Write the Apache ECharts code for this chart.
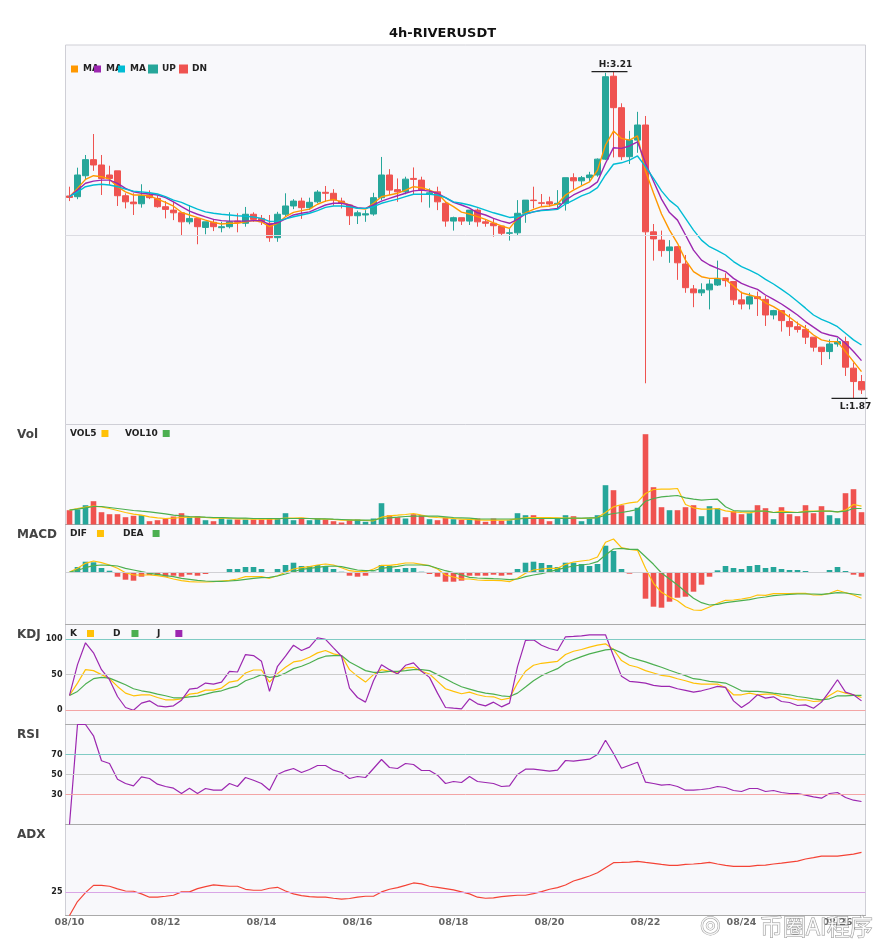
<!DOCTYPE html>
<html><head><meta charset="utf-8">
<script src="https://cdn.jsdelivr.net/npm/echarts@6/dist/echarts.min.js"></script>
<style>html,body{margin:0;padding:0;background:#fff}#c{width:885px;height:950px}</style>
</head><body><div id="c"></div>
<script>
const categories = [
'08/10 00:00','08/10 04:00','08/10 08:00','08/10 12:00','08/10 16:00','08/10 20:00',
'08/11 00:00','08/11 04:00','08/11 08:00','08/11 12:00','08/11 16:00','08/11 20:00',
'08/12 00:00','08/12 04:00','08/12 08:00','08/12 12:00','08/12 16:00','08/12 20:00',
'08/13 00:00','08/13 04:00','08/13 08:00','08/13 12:00','08/13 16:00','08/13 20:00',
'08/14 00:00','08/14 04:00','08/14 08:00','08/14 12:00','08/14 16:00','08/14 20:00',
'08/15 00:00','08/15 04:00','08/15 08:00','08/15 12:00','08/15 16:00','08/15 20:00',
'08/16 00:00','08/16 04:00','08/16 08:00','08/16 12:00','08/16 16:00','08/16 20:00',
'08/17 00:00','08/17 04:00','08/17 08:00','08/17 12:00','08/17 16:00','08/17 20:00',
'08/18 00:00','08/18 04:00','08/18 08:00','08/18 12:00','08/18 16:00','08/18 20:00',
'08/19 00:00','08/19 04:00','08/19 08:00','08/19 12:00','08/19 16:00','08/19 20:00',
'08/20 00:00','08/20 04:00','08/20 08:00','08/20 12:00','08/20 16:00','08/20 20:00',
'08/21 00:00','08/21 04:00','08/21 08:00','08/21 12:00','08/21 16:00','08/21 20:00',
'08/22 00:00','08/22 04:00','08/22 08:00','08/22 12:00','08/22 16:00','08/22 20:00',
'08/23 00:00','08/23 04:00','08/23 08:00','08/23 12:00','08/23 16:00','08/23 20:00',
'08/24 00:00','08/24 04:00','08/24 08:00','08/24 12:00','08/24 16:00','08/24 20:00',
'08/25 00:00','08/25 04:00','08/25 08:00','08/25 12:00','08/25 16:00','08/25 20:00',
'08/26 00:00','08/26 04:00','08/26 08:00','08/26 12:00'];

const open = [2.700,2.697,2.783,2.849,2.827,2.786,2.803,2.701,2.675,2.668, 2.704,2.690,2.656,2.642,2.631,2.594,2.608,2.571,2.592,2.570, 2.574,2.597,2.588,2.625,2.608,2.588,2.529,2.625,2.659,2.679, 2.652,2.676,2.715,2.711,2.679,2.663,2.619,2.622,2.626,2.693, 2.786,2.726,2.717,2.772,2.765,2.709,2.717,2.670,2.597,2.611, 2.597,2.642,2.594,2.588,2.577,2.547,2.549,2.629,2.683,2.672, 2.676,2.666,2.670,2.775,2.762,2.775,2.786,2.851,3.191,3.062, 2.861,2.929,2.991,2.553,2.519,2.476,2.492,2.421,2.319,2.303, 2.315,2.335,2.362,2.349,2.274,2.257,2.287,2.276,2.212,2.230, 2.185,2.164,2.153,2.121,2.080,2.062,2.093,2.103,1.994,1.939];
const close = [2.694,2.786,2.849,2.827,2.772,2.772,2.701,2.676,2.668,2.701, 2.693,2.656,2.645,2.631,2.594,2.608,2.574,2.594,2.574,2.574, 2.594,2.592,2.625,2.604,2.594,2.529,2.625,2.659,2.679,2.652, 2.674,2.716,2.711,2.683,2.670,2.619,2.631,2.627,2.693,2.786, 2.724,2.717,2.769,2.768,2.724,2.713,2.676,2.597,2.611,2.597, 2.642,2.594,2.588,2.578,2.547,2.549,2.629,2.683,2.681,2.670, 2.667,2.670,2.775,2.762,2.775,2.786,2.851,3.189,3.062,2.861, 2.929,2.991,2.553,2.524,2.476,2.491,2.426,2.324,2.303,2.315, 2.339,2.362,2.353,2.274,2.257,2.287,2.279,2.212,2.230,2.189, 2.164,2.153,2.121,2.080,2.062,2.093,2.103,1.998,1.939,1.905];
const high = [2.738,2.816,2.868,2.954,2.868,2.824,2.803,2.711,2.711,2.748, 2.723,2.701,2.679,2.676,2.631,2.663,2.611,2.594,2.606,2.594, 2.633,2.629,2.655,2.633,2.622,2.622,2.635,2.711,2.687,2.693, 2.693,2.724,2.741,2.728,2.693,2.663,2.640,2.642,2.713,2.860, 2.810,2.772,2.779,2.817,2.779,2.731,2.738,2.676,2.615,2.611, 2.642,2.649,2.604,2.608,2.577,2.567,2.683,2.683,2.738,2.708, 2.697,2.724,2.775,2.793,2.782,2.799,2.854,3.205,3.210,3.080, 2.967,3.045,3.028,2.585,2.558,2.519,2.495,2.458,2.335,2.342, 2.358,2.435,2.383,2.349,2.308,2.303,2.308,2.290,2.233,2.230, 2.216,2.185,2.171,2.121,2.080,2.112,2.117,2.123,2.017,1.966];
const low = [2.679,2.687,2.765,2.803,2.704,2.745,2.659,2.649,2.622,2.652, 2.687,2.652,2.608,2.601,2.537,2.584,2.502,2.543,2.556,2.551, 2.567,2.551,2.574,2.594,2.581,2.512,2.512,2.615,2.646,2.606, 2.642,2.670,2.676,2.660,2.649,2.581,2.585,2.594,2.619,2.683, 2.704,2.676,2.707,2.704,2.674,2.652,2.642,2.574,2.558,2.581, 2.581,2.574,2.574,2.533,2.536,2.517,2.540,2.590,2.649,2.656, 2.656,2.649,2.640,2.727,2.745,2.758,2.779,2.847,2.858,2.847, 2.831,2.877,1.932,2.435,2.451,2.426,2.356,2.303,2.244,2.290, 2.235,2.331,2.328,2.253,2.235,2.235,2.208,2.167,2.194,2.144, 2.126,2.140,2.093,2.062,2.007,2.031,2.082,1.962,1.870,1.888];

const ma5 = [2.697,2.731,2.768,2.783,2.779,2.769,2.738,2.717,2.704,2.704, 2.700,2.687,2.674,2.658,2.633,2.622,2.611,2.601,2.592,2.585, 2.588,2.588,2.594,2.599,2.594,2.574,2.588,2.615,2.633,2.640, 2.646,2.666,2.679,2.686,2.676,2.663,2.649,2.646,2.670,2.697, 2.704,2.711,2.724,2.738,2.734,2.724,2.711,2.676,2.656,2.634, 2.626,2.615,2.604,2.590,2.577,2.567,2.608,2.631,2.645,2.656, 2.659,2.667,2.704,2.724,2.741,2.758,2.806,2.909,2.966,2.936, 2.929,2.946,2.802,2.712,2.626,2.560,2.506,2.437,2.390,2.369, 2.362,2.362,2.358,2.331,2.303,2.294,2.285,2.262,2.246,2.226, 2.203,2.178,2.158,2.130,2.110,2.103,2.103,2.062,2.021,1.980];
const ma10 = [2.697,2.724,2.752,2.761,2.765,2.765,2.752,2.731,2.717,2.711, 2.708,2.704,2.693,2.676,2.656,2.638,2.625,2.614,2.604,2.599, 2.597,2.597,2.597,2.599,2.599,2.583,2.590,2.606,2.622,2.629, 2.635,2.649,2.663,2.670,2.670,2.663,2.652,2.649,2.663,2.679, 2.690,2.701,2.711,2.721,2.724,2.720,2.711,2.693,2.674,2.663, 2.650,2.631,2.622,2.608,2.597,2.588,2.604,2.626,2.635,2.642, 2.645,2.649,2.683,2.704,2.720,2.734,2.758,2.834,2.898,2.895, 2.905,2.922,2.834,2.760,2.687,2.632,2.601,2.540,2.478,2.437, 2.417,2.403,2.390,2.362,2.342,2.328,2.317,2.294,2.276,2.257, 2.235,2.212,2.185,2.162,2.140,2.130,2.123,2.096,2.062,2.025];
const ma20 = [2.697,2.717,2.738,2.745,2.748,2.745,2.738,2.728,2.720,2.717, 2.713,2.708,2.697,2.683,2.674,2.659,2.646,2.635,2.629,2.625, 2.622,2.619,2.617,2.614,2.608,2.596,2.597,2.606,2.615,2.622, 2.629,2.640,2.653,2.659,2.659,2.656,2.649,2.649,2.656,2.670, 2.679,2.687,2.697,2.707,2.707,2.707,2.704,2.693,2.676,2.670, 2.663,2.653,2.642,2.631,2.622,2.612,2.615,2.626,2.635,2.640, 2.642,2.645,2.667,2.683,2.700,2.713,2.734,2.786,2.830,2.836, 2.847,2.864,2.820,2.772,2.721,2.682,2.656,2.608,2.560,2.519, 2.492,2.476,2.458,2.431,2.410,2.396,2.380,2.358,2.339,2.317, 2.294,2.267,2.240,2.212,2.194,2.181,2.164,2.137,2.110,2.089];

const volume = [14.3,15,19.3,23.3,12.3,10.3,10.3,7.3,8.7,9.3, 3.3,4.3,5.7,8,11.3,7.3,8.3,4.3,3.3,7.3, 5,5,5,5,5,6,6,11.3,4.3,6.7, 4.3,6,5,3.3,2,4.3,5,2.7,6,21.3, 9.3,7.3,6,10.3,9.3,5.3,4.3,6.7,5.3,4.7, 5,6,2.7,6,3.7,4.3,11.3,9.3,9.3,6.7, 3.3,6.7,9.3,8.3,3.3,6,9.3,39.3,34.3,19.3, 8.3,16.7,90.3,37.3,17.3,14.3,14.3,17.3,19.3,8.3, 18.3,16.3,7.3,13.3,10.3,11.3,19.3,16.3,5.3,17.3, 10.3,8.3,19.3,11.3,18.3,9.3,6.3,31.3,35.3,12.3];
const vol5 = [14.3,16,17.3,18.3,17.7,16,14,12,10.3,9.3, 7.7,6.7,6,6.3,7,7.3,7.3,7,6.3,6.7, 6,5.7,5.7,5.3,5.3,5.3,5.7,6.3,6.3,6.7, 6,5.7,5.3,5,4.3,4.3,4.3,4,3.7,7.3, 8.7,9.3,10,11,9.3,7.7,7,6.7,6,5.3, 5,4.7,4.3,4.3,4.3,4.7,5.7,6.7,7,7, 7,6.7,6.3,6.3,6,6.3,7,12,17.7,20, 21.7,22.7,31,35,35.3,35.3,36,20,16.7,15.3, 15.3,16,13.7,12.7,12,11.7,13.3,13.3,12,13.3, 12.7,12,13.3,13.3,13.3,13.3,12.7,14.3,20,18.3];
const vol10 = [14.3,15.3,16.7,18,18,17,16,15,14,13.3, 12.7,11.7,10.7,9.3,8.7,8,7.7,7.3,7,7, 6.7,6.3,6.3,6,6,6,6,6,6,6, 6,5.7,5.7,5.3,5,4.7,4.3,4.3,4.7,6, 6.7,7.3,8,8.3,8.3,8.3,8.3,7.7,7,6.7, 6.3,5.7,5.5,5.5,5.5,5.5,5.7,6,6,6, 6,6,6,6.3,6.3,6.7,6.7,9.3,11,12, 13.3,15,23.3,26,27.7,28.3,29,26.7,25.3,24.3, 25,25.3,17.7,14,13.3,13.3,13.3,13.3,12,12, 12,12,12.7,13,13.3,13.3,12.7,13.3,16,16];

const macdHist = [0,5,10.3,9.7,4,1.3,-4.7,-7.7,-8.7,-4.7, -3,-3,-4.7,-3.7,-4.7,-2.7,-3.7,-2,-1,0, 3,3,5,5,3,-0.7,3,7,9.3,6, 6,7,6,3,0.3,-3.7,-4.7,-3.7,0.3,7, 6.3,3,4,4,0.3,-2,-4.7,-9.7,-9.7,-8.7, -3.7,-3.7,-3.7,-2.7,-3.7,-2.7,3,9.3,10.3,9, 7,5,9.3,9.3,8,6,8,26.3,21,3, -1.7,-0.7,-26.7,-34.7,-35.7,-29.7,-25.7,-24.7,-19.7,-12.7, -4.7,1.7,6,4,3,6,7,4,5,3, 2,2,1,-0.7,-0.7,2,5,1,-2.7,-4.7];
const dif = [0,3.7,8.7,11,9.3,7,3.7,-0.7,-3,-3, -3,-3.7,-5,-7,-8.7,-9.7,-10,-10,-9.7,-9, -8.3,-7,-4.7,-4.7,-4.7,-6.3,-3.7,-0.3,3,4.3, 5.3,7,8,7,4.3,1.3,0.3,0.3,3,6.7, 6.7,7.7,9,9,7.7,6.3,3,-3,-5,-7, -7,-8,-8.3,-8.3,-8.7,-9.7,-6.3,-1.3,2,3, 3.7,3.7,7.7,10,11,12,15,29.7,33,24.3, 22.7,21.7,3.7,-11.3,-20.3,-25,-28.7,-34.7,-38,-38.3, -35,-31.3,-28.3,-28,-27,-25.7,-23,-23.3,-21.7,-21.7, -21.7,-21.3,-21.3,-23,-23,-21.3,-18.3,-20.7,-23,-26.3];
const dea = [0,1.7,4.3,6.3,7,6.7,6,3.7,2,0.3, -1.3,-2.3,-3.7,-4.7,-6.3,-7.3,-8.3,-9,-9.3,-9.3, -9,-8.3,-7.3,-6.3,-5.7,-5.3,-4,-2,0.3,2.7, 3.7,4.7,5.7,6,5.3,3.7,2,1.3,1.3,3.7, 4.7,5.7,7,7,7,6.3,3.7,1.3,-0.7,-3, -5.3,-6,-6.3,-6.7,-7,-7.7,-7,-4.7,-3,-1.7, 0.3,2.3,4.3,6,7,8,10.3,17,23,23.7, 22.7,22.7,15.3,7.7,-1,-7,-13,-19.7,-26.3,-30.7, -33,-32.3,-30.7,-29.7,-28.7,-27.7,-26,-25,-23.7,-23, -22.3,-22,-22,-22,-22.3,-21.7,-20.7,-21,-22,-23];

const kLine = [20.7,38,56.8,55.4,49.8,44.1,33.3,23.9,20.2,21.6, 21.6,17.8,14.6,14.6,16,22.5,23.9,28.2,28.2,31, 39.4,41.3,52.1,56.3,56.3,39.4,51.2,60.1,67.6,69.5, 74.2,80.3,83.6,78.9,76.5,56.8,47.4,39.4,49.8,56.8, 54.5,52.1,59.2,60.1,54.5,50.7,40.4,30,26.3,23, 25.4,21.6,19.2,18.8,14.6,16.9,38,54.5,63,65.7, 67.1,68.5,77.9,82.6,85,88.3,91.1,93,85,69.5, 62.9,60.1,55.4,52.1,48.8,47.4,44.1,41.3,38,36.6, 36.6,36.6,31.9,21.6,21.6,23.9,21.6,22.5,22.5,19.2, 16.9,14.6,14.6,12.2,13.1,20.7,27.2,23.9,21.6,17.8];
const dLine = [20.7,26.3,36.6,44.1,46,45,40.4,35.7,30,27.2, 25.4,22.5,20.2,17.4,17.4,18.8,19.7,22.5,25.4,27.2, 31,33.8,41.3,45.1,49.8,46,47.4,52.1,58.2,61.5, 66.2,71.8,75.6,76.5,76.5,67.6,61.5,55.4,53,53, 54.5,54.5,55.4,56.8,56.8,55.4,49.8,44.1,38,32.9, 29.6,26.3,23.9,22.5,20.2,19.2,23.9,32.4,41.3,48.4, 53.5,58.2,66.2,70.9,75.1,78.9,81.7,84.5,85.4,80.3, 74.2,70.9,67.6,63.8,60.1,55.9,52.1,48.4,44.1,42.7, 40.4,39.4,38,32.9,27.2,26.3,26.3,25.4,23.9,22.5, 21.6,19.2,17.8,16,14.6,16,20.2,20.2,20.7,20.7];
const jLine = [20.7,63.8,94.4,80.3,56.8,42.7,19.2,3.8,0,9.9, 13.1,6.1,4.7,6.1,14.1,29.6,31,38,36.6,39.4, 54.5,53.5,77.9,76.5,68.5,26.3,61.5,75.6,91.1,83.6, 88.3,101.4,99.1,87.3,75.6,31,17.8,11.3,41.3,63.8, 56.8,50.7,62.9,66.2,54.5,46,23.9,3.8,2.8,1.9, 16,8.9,6.1,11.3,4.7,9.9,61,97.7,98.6,91, 86.4,83.6,102.8,103.3,104.2,105.6,105.6,105.6,76,47.4, 40.4,39.4,38,34.7,33.3,33.3,30,27.7,25.4,27.2, 30,33.3,31.9,13.1,3.8,11.3,21.6,16.9,18.8,12.2, 10.8,6.6,7.5,2.8,11.3,26.3,42.7,25.4,21.6,13.1];

const rsi = [0,100,100,88.7,63.7,61,45.3,41,38.7,47.7, 46,40.3,38,36.3,31,36.3,31,36,34.3,34.3, 41,38,47,44.3,41,34.3,50,53.7,56,52, 55,59,59,54.3,52,46,48,47,56,65, 57,56,61,60,54,54,49.3,41,43,42, 48,43,42,41,38,38.7,50,55.3,55.3,54.3, 53.3,54.3,64,63.3,64.3,65.3,70,84.3,71,56.3, 59.3,62.3,42.3,41,39.3,40,38,34.3,34.3,35, 36,38,37,34,33,36,36,33,34,32, 31,31,29.3,27.7,26.3,31,32,27,24.3,23];

const adx = [0,14.8,24.3,32,32,31,28.2,26,25.7,22.9, 19.4,19.4,20.4,21.5,25,25,28.5,30.6,32.4,31.7, 31,31,27.8,26.8,26.8,28.9,29.9,26,22.9,21.1, 20.1,19.4,19.4,18.3,17.3,18,19.4,20.4,20.4,25, 27.8,29.6,32,34.5,33.5,31,29.9,28.5,27.1,25, 22.9,19.4,18.3,18.7,20.1,20.8,21.5,21.5,23.2,25.4, 27.8,29.6,32.4,36.6,39.1,41.9,45.4,50.7,56,56.3, 56.7,57.4,56.3,55.3,54.2,53.2,53.2,54.2,54.6,55.3, 56.3,54.6,53.2,52.1,52.1,52.1,53.2,53.5,54.6,55.6, 56.7,57.7,59.9,61.3,63,63,63,64.1,65.1,66.9];

const kdjLevels = [0, 50, 100];
const rsiLevels = [30, 50, 70];
const adxLevels = [25];

const FONT = '"DejaVu Sans", sans-serif';
const UP = '#26a69a', DN = '#ef5350';
const priceMin = 1.763, priceMax = 3.319;

const isUp = close.map((c, i) => c >= open[i]);
const upData = categories.map((_, i) => isUp[i] ? [open[i], close[i], low[i], high[i]] : ['-','-','-','-']);
const dnData = categories.map((_, i) => !isUp[i] ? [open[i], close[i], low[i], high[i]] : ['-','-','-','-']);
const volData = volume.map((v, i) => ({ value: v, itemStyle: { color: isUp[i] ? UP : DN } }));
const histData = macdHist.map(v => ({ value: v, itemStyle: { color: v >= 0 ? UP : DN } }));

const chart = echarts.init(document.getElementById('c'), null, { renderer: 'canvas' });

const gridBase = { left: 65.5, right: 19.5, show: true, backgroundColor: '#f8f8fb', borderColor: '#cfcfd6', borderWidth: 1, containLabel: false, outerBoundsMode: 'none' };
const tops = [45, 424.5, 524.5, 624.5, 724.5, 824.5];
const heights = [379.5, 100, 100, 100, 100, 91];
const grids = tops.map((t, i) => Object.assign({}, gridBase, { top: t, height: heights[i] }));

const xAxes = grids.map((g, i) => ({
  type: 'category', gridIndex: i, data: categories, boundaryGap: true,
  axisTick: { show: false },
  axisLine: { show: i > 0, onZero: false, lineStyle: { color: '#aaaaaa', width: 1 } },
  splitLine: { show: false },
  axisLabel: {
    show: i === 5, interval: (idx) => idx % 12 === 0,
    formatter: (v) => v.slice(0, 5), fontSize: 9.5, fontWeight: 'bold', color: '#666', margin: 2, fontFamily: FONT
  }
}));

const lblStyle = { fontSize: 8, fontWeight: 'bold', color: '#222', margin: 3, fontFamily: FONT };
const yAxes = [
  { gridIndex: 0, min: priceMin, max: priceMax, axisLabel: { show: false }, axisLine: { show: false }, axisTick: { show: false }, splitLine: { show: false } },
  { gridIndex: 1, min: 0, max: 100, axisLabel: { show: false }, axisLine: { show: false }, axisTick: { show: false }, splitLine: { show: false } },
  { gridIndex: 2, min: -52.5, max: 47.5, axisLabel: { show: false }, axisLine: { show: false }, axisTick: { show: false }, splitLine: { show: false } },
  { gridIndex: 3, min: -20, max: 120, interval: 10, axisLine: { show: false }, axisTick: { show: false }, splitLine: { show: false },
    axisLabel: Object.assign({ formatter: v => kdjLevels.includes(v) ? String(v) : '' }, lblStyle) },
  { gridIndex: 4, min: 0, max: 100, interval: 10, axisLine: { show: false }, axisTick: { show: false }, splitLine: { show: false },
    axisLabel: Object.assign({ formatter: v => rsiLevels.includes(v) ? String(v) : '' }, lblStyle) },
  { gridIndex: 5, min: 0, max: 96.5, interval: 5, axisLine: { show: false }, axisTick: { show: false }, splitLine: { show: false },
    axisLabel: Object.assign({ formatter: v => adxLevels.includes(v) ? String(v) : '' }, lblStyle) }
];

function refLines(items) {
  return { silent: true, symbol: ['none', 'none'], animation: false, label: { show: false },
    data: items.map(([v, c]) => ({ yAxis: v, lineStyle: { color: c, width: 1, type: 'solid' } })) };
}

function line(name, data, color, xi, width) {
  return { name, type: 'line', data, xAxisIndex: xi, yAxisIndex: xi, showSymbol: false, symbol: 'none',
    lineStyle: { color, width: width || 1.2 }, itemStyle: { color }, z: 3, animation: false };
}

const teal = '#80cbc4', grey = '#cccccc', pink = '#f3a5a5';

const series = [
  { name: 'UP', type: 'candlestick', data: upData, xAxisIndex: 0, yAxisIndex: 0, barWidth: '70%',
    itemStyle: { color: UP, color0: UP, borderColor: UP, borderColor0: UP, borderWidth: 1 },
    markLine: refLines([[(priceMin + priceMax) / 2, '#dcdce2']]) },
  { name: 'DN', type: 'candlestick', data: dnData, xAxisIndex: 0, yAxisIndex: 0, barWidth: '70%',
    itemStyle: { color: DN, color0: DN, borderColor: DN, borderColor0: DN, borderWidth: 1 } },
  line('MA5', ma5, '#ff9800', 0, 1.4),
  line('MA10', ma10, '#9c27b0', 0, 1.4),
  line('MA20', ma20, '#00bcd4', 0, 1.4),
  { name: 'Vol', type: 'bar', data: volData, xAxisIndex: 1, yAxisIndex: 1, barWidth: '70%', animation: false },
  line('VOL5', vol5, '#ffc107', 1, 1.2),
  line('VOL10', vol10, '#4caf50', 1, 1.2),
  { name: 'MACD', type: 'bar', data: histData, xAxisIndex: 2, yAxisIndex: 2, barWidth: '70%', animation: false,
    markLine: refLines([[0, '#d0d0d4']]) },
  line('DIF', dif, '#ffc107', 2, 1.2),
  line('DEA', dea, '#4caf50', 2, 1.2),
  Object.assign(line('K', kLine, '#ffc107', 3, 1.2), { markLine: refLines([[100, teal], [50, grey], [0, pink]]) }),
  line('D', dLine, '#4caf50', 3, 1.2),
  line('J', jLine, '#9c27b0', 3, 1.2),
  Object.assign(line('RSI', rsi, '#9c27b0', 4, 1.2), { markLine: refLines([[70, teal], [50, grey], [30, pink]]) }),
  Object.assign(line('ADX', adx, '#f44336', 5, 1.2), { markLine: refLines([[25, '#d9a6e6']]) })
];

const lgText = { fontSize: 9, fontWeight: 'bold', color: '#222', fontFamily: FONT };
function lg(name, left, top, z, opts) {
  return Object.assign({ data: [name], left, top, z, icon: 'rect', itemWidth: 7, itemHeight: 7, itemGap: 0,
    padding: 0, selectedMode: false, orient: 'horizontal', textStyle: Object.assign({}, lgText) }, opts || {});
}
const legends = [
  lg('MA5', 71, 64.5, 10, { formatter: 'MA' }),
  lg('MA10', 94, 64.5, 11, { formatter: 'MA' }),
  lg('MA20', 118, 64.5, 12, { formatter: 'MA' }),
  lg('UP', 148, 64.5, 13, { itemWidth: 8 }),
  lg('DN', 179, 64.5, 14),
  lg('VOL5', 70, 429, 10, { align: 'right' }),
  lg('VOL10', 125, 429, 10, { align: 'right' }),
  lg('DIF', 70, 529, 10, { align: 'right', textStyle: Object.assign({ padding: [0, 5, 0, 0] }, lgText) }),
  lg('DEA', 123, 529, 10, { align: 'right', textStyle: Object.assign({ padding: [0, 4, 0, 0] }, lgText) }),
  lg('K', 70, 629, 10, { align: 'right', textStyle: Object.assign({ padding: [0, 5, 0, 0] }, lgText) }),
  lg('D', 113, 629, 10, { align: 'right', textStyle: Object.assign({ padding: [0, 6, 0, 0] }, lgText) }),
  lg('J', 157, 629, 10, { align: 'right', textStyle: Object.assign({ padding: [0, 10, 0, 0] }, lgText) })
];

const panelTitle = (text, top) => ({ text, left: 17, top, padding: 0, textStyle: { fontSize: 12, fontWeight: 'bold', color: '#444', fontFamily: FONT } });
const titles = [
  { text: '4h-RIVERUSDT', left: 'center', top: 27.5, padding: 0, textStyle: { fontSize: 13, fontWeight: 'bold', color: '#111', fontFamily: FONT } },
  panelTitle('Vol', 429), panelTitle('MACD', 528.5), panelTitle('KDJ', 629), panelTitle('RSI', 728.5), panelTitle('ADX', 829)
];

chart.setOption({
  animation: false,
  backgroundColor: '#ffffff',
  textStyle: { fontFamily: FONT },
  title: titles,
  legend: legends,
  grid: grids,
  xAxis: xAxes,
  yAxis: yAxes,
  series
});

// High / low annotations placed through the chart's own scales
const hiVal = Math.max(...high), loVal = Math.min(...low);
const hiIdx = high.indexOf(hiVal), loIdx = low.indexOf(loVal);
const ph = chart.convertToPixel({ xAxisIndex: 0, yAxisIndex: 0 }, [hiIdx, hiVal]);
const pl = chart.convertToPixel({ xAxisIndex: 0, yAxisIndex: 0 }, [loIdx, loVal]);
const annFont = 'bold 9px "DejaVu Sans", sans-serif';
chart.setOption({
  graphic: [
    { type: 'line', shape: { x1: ph[0] - 22, y1: ph[1], x2: ph[0] + 14, y2: ph[1] }, style: { stroke: '#222', lineWidth: 1.2 }, z: 20 },
    { type: 'text', x: ph[0] + 2, y: ph[1] - 7, style: { text: 'H:' + hiVal.toFixed(2), font: annFont, fill: '#222', align: 'center', verticalAlign: 'middle' }, z: 20 },
    { type: 'line', shape: { x1: pl[0] - 22, y1: pl[1], x2: pl[0] + 14, y2: pl[1] }, style: { stroke: '#222', lineWidth: 1.2 }, z: 20 },
    { type: 'text', x: pl[0] + 2, y: pl[1] + 8, style: { text: 'L:' + loVal.toFixed(2), font: annFont, fill: '#222', align: 'center', verticalAlign: 'middle' }, z: 20 },
    { type: 'text', x: 700, y: 926, style: { text: '◎', font: '24px "DejaVu Sans", sans-serif', fill: 'rgba(255,255,255,0.85)', stroke: 'rgba(110,110,110,0.7)', lineWidth: 1, verticalAlign: 'middle' }, z: 30 },
    { type: 'text', x: 760, y: 926, style: { text: '币圈AI程序', font: '23px "Noto Sans CJK SC", sans-serif', fill: 'rgba(255,255,255,0.85)', stroke: 'rgba(110,110,110,0.75)', lineWidth: 1, verticalAlign: 'middle' }, z: 30 }
  ]
});
</script>
</body></html>
